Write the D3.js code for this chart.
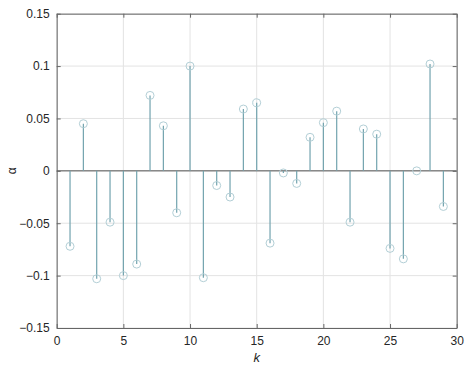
<!DOCTYPE html>
<html>
<head>
<meta charset="utf-8">
<script src="https://cdn.jsdelivr.net/npm/d3@7"></script>
<style>
  html, body { margin: 0; padding: 0; background: #fff; }
  svg { display: block; font-family: "Liberation Sans", Arial, sans-serif; }
</style>
</head>
<body>
<div id="grafico"></div>
<script>
// indices k e valores alpha
const ks = [1, 2, 3, 4, 5, 6, 7, 8, 9, 10, 11, 12, 13, 14, 15, 16, 17, 18, 19, 20, 21, 22, 23, 24, 25, 26, 27, 28, 29];
const alphas = [-0.072, 0.045, -0.103, -0.049, -0.100, -0.089, 0.072, 0.043, -0.040, 0.100, -0.102, -0.014, -0.025,
    0.059, 0.065, -0.069, -0.002, -0.012, 0.032, 0.046, 0.057, -0.049, 0.040, 0.035, -0.074, -0.084, 0.000, 0.102, -0.034];
const xTicks = [0, 5, 10, 15, 20, 25, 30];
const yTicks = [-0.15, -0.1, -0.05, 0, 0.05, 0.1, 0.15];

const largura = 474, altura = 372;
const margem = { top: 13.7, right: 17.3, bottom: 44, left: 56.7 };
const w = largura - margem.left - margem.right;
const h = altura - margem.top - margem.bottom;

const svg = d3.select("#grafico").append("svg")
    .attr("width", largura)
    .attr("height", altura);

const g = svg.append("g")
    .attr("transform", "translate(" + margem.left + "," + margem.top + ")");

const x = d3.scaleLinear().domain([0, 30]).range([0, w]);
const y = d3.scaleLinear().domain([-0.15, 0.15]).range([h, 0]);

// grade
g.append("g").selectAll("line").data(xTicks).enter().append("line")
    .attr("x1", d => x(d)).attr("x2", d => x(d))
    .attr("y1", 0).attr("y2", h)
    .attr("stroke", "#e3e3e3").attr("stroke-width", 1);
g.append("g").selectAll("line").data(yTicks).enter().append("line")
    .attr("x1", 0).attr("x2", w)
    .attr("y1", d => y(d)).attr("y2", d => y(d))
    .attr("stroke", "#e3e3e3").attr("stroke-width", 1);

// linha de base em zero
g.append("line")
    .attr("x1", 0).attr("x2", w)
    .attr("y1", y(0)).attr("y2", y(0))
    .attr("stroke", "#555").attr("stroke-width", 1);

const dados = ks.map((k, i) => ({ k: k, a: alphas[i] }));

// hastes
g.append("g").selectAll("line").data(dados).enter().append("line")
    .attr("x1", d => x(d.k)).attr("x2", d => x(d.k))
    .attr("y1", y(0)).attr("y2", d => y(d.a))
    .attr("stroke", "#72a3ae").attr("stroke-width", 1.2);

// marcadores
g.append("g").selectAll("circle").data(dados).enter().append("circle")
    .attr("cx", d => x(d.k)).attr("cy", d => y(d.a))
    .attr("r", 4)
    .attr("fill", "none")
    .attr("stroke", "#b3cfd6").attr("stroke-width", 1);

// eixos (ticks para dentro, caixa completa)
const fmtY = d => d === 0 ? "0" : d3.format("")(+d.toFixed(2));
const eixoX = g.append("g").attr("transform", "translate(0," + h + ")")
    .call(d3.axisBottom(x).tickValues(xTicks).tickSizeInner(-4).tickSizeOuter(0).tickPadding(8));
const eixoY = g.append("g")
    .call(d3.axisLeft(y).tickValues(yTicks).tickFormat(fmtY).tickSizeInner(-4).tickSizeOuter(0).tickPadding(7));
const eixoTopo = g.append("g")
    .call(d3.axisTop(x).tickValues(xTicks).tickFormat("").tickSizeInner(-4).tickSizeOuter(0));
const eixoDir = g.append("g").attr("transform", "translate(" + w + ",0)")
    .call(d3.axisRight(y).tickValues(yTicks).tickFormat("").tickSizeInner(-4).tickSizeOuter(0));

[eixoX, eixoY, eixoTopo, eixoDir].forEach(e => {
    e.select(".domain").attr("stroke", "#666").attr("stroke-width", 1);
    e.selectAll(".tick line").attr("stroke", "#666");
    e.selectAll("text").attr("fill", "#262626").attr("font-size", "12px")
        .attr("font-family", "'Liberation Sans', Arial, sans-serif");
});

// rótulos
svg.append("text")
    .attr("x", margem.left + w / 2)
    .attr("y", 362)
    .attr("text-anchor", "middle")
    .attr("font-size", "13px")
    .attr("font-style", "italic")
    .attr("fill", "#262626")
    .text("k");

svg.append("text")
    .attr("transform", "translate(16," + (margem.top + y(0)) + ") rotate(-90)")
    .attr("text-anchor", "middle")
    .attr("font-size", "12px")
    .attr("fill", "#262626")
    .text("α");
</script>
</body>
</html>
